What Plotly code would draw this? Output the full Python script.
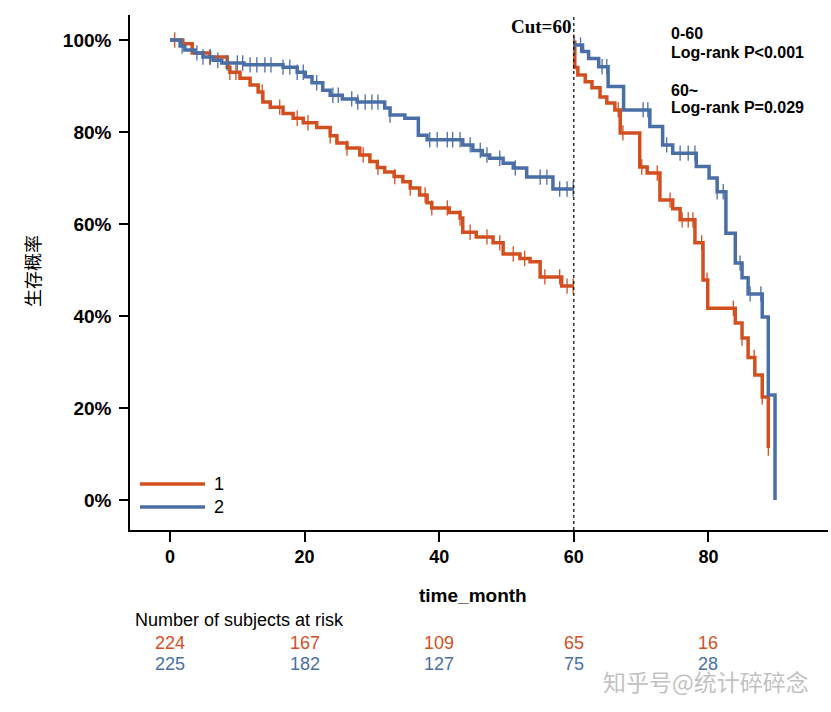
import numpy as np
import plotly.graph_objects as go

# ---------------- data ----------------
# Group 1 (orange), 0-60 months: step times and survival (%)
g1a_t = [0, 1.9, 3.3, 5.9, 8.5, 8.9, 10.4, 11.9, 13.1, 13.8, 14.9, 16.8, 18.3, 19.8, 21.8,
         23.8, 24.8, 26.3, 28.2, 29.7, 30.8, 31.9, 33.3, 34.6, 35.7, 37.1, 38.2, 38.9,
         41.5, 43.1, 43.5, 45.5, 48.0, 49.5, 52.0, 53.5, 55.0, 58.2, 60.0]
g1a_s = [100, 99.2, 97.2, 96.3, 94.0, 93.0, 91.7, 90.2, 88.7, 86.5, 85.4, 84.0, 83.0, 82.0, 81.0,
         79.2, 77.6, 76.5, 75.0, 73.6, 72.3, 71.3, 70.3, 69.2, 67.8, 66.3, 64.6, 63.5,
         62.5, 61.3, 58.2, 57.2, 55.9, 53.5, 52.5, 51.8, 48.5, 46.5, 46.5]
g1a_cens = [0.7, 5.9, 8.9, 9.8, 13.7, 16.3, 18.9, 20.5, 23.8, 26.3, 28.7, 30.9, 33.4, 35.7,
            37.9, 38.9, 41.2, 43.1, 44.6, 47.1, 49.0, 51.0, 52.7, 55.7, 57.9, 59.0, 59.9]

# Group 2 (blue), 0-60 months
g2a_t = [0, 1.5, 2.2, 3.7, 4.9, 6.4, 7.7, 11.0, 16.8, 18.9, 20.1, 21.1, 22.7, 23.8, 25.6,
         27.8, 31.9, 32.7, 34.9, 36.9, 38.2, 43.5, 45.0, 46.4, 47.5, 49.5, 51.0, 53.0, 56.9, 60.0]
g2a_s = [100, 98.7, 97.8, 97.2, 96.3, 95.6, 95.0, 94.6, 94.1, 93.0, 92.0, 90.7, 89.1, 88.0, 87.2,
         86.5, 85.2, 83.7, 83.0, 79.3, 78.3, 77.2, 76.0, 75.0, 74.3, 73.2, 72.2, 70.2, 67.6, 67.6]
g2a_cens = [1.8, 4.0, 4.9, 6.0, 7.1, 8.5, 10.0, 10.8, 11.9, 12.9, 14.1, 15.0, 16.8, 17.8, 18.9,
            19.8, 21.8, 24.2, 25.0, 27.0, 27.9, 29.0, 30.0, 30.9, 32.7, 38.6, 39.7, 41.2, 42.0,
            43.1, 44.6, 46.1, 47.1, 49.0, 51.3, 55.0, 56.0, 57.9, 59.0, 59.9]

# Group 1 (orange), after 60 months
g1b_t = [60.0, 60.15, 60.6, 61.7, 62.7, 63.9, 64.9, 66.1, 66.9, 69.8, 70.9, 72.8, 74.7, 75.8,
         78.0, 79.2, 79.9, 84.0, 85.0, 85.9, 86.9, 88.0, 88.9]
g1b_s = [99.5, 94.0, 92.4, 90.9, 89.6, 87.6, 86.3, 84.8, 79.8, 72.4, 71.1, 65.2, 63.3, 60.9,
         55.9, 47.8, 41.7, 38.5, 35.2, 31.0, 27.2, 22.4, 11.3]
g1b_cens = [60.0, 66.6, 67.3, 70.1, 72.4, 74.3, 76.1, 77.0, 77.7, 79.0, 79.8, 83.7, 85.0,
            86.8, 88.0, 88.9]

# Group 2 (blue), after 60 months
g2b_t = [60.0, 61.3, 62.2, 63.7, 65.1, 67.4, 71.3, 73.2, 74.7, 78.2, 80.1, 81.3, 82.6, 84.0,
         85.0, 85.9, 88.0, 88.9, 89.9]
g2b_s = [98.9, 97.5, 96.0, 94.2, 89.9, 84.8, 81.2, 77.2, 75.4, 72.5, 70.0, 67.0, 58.0, 51.5,
         48.3, 44.8, 39.8, 22.8, 0.0]
g2b_cens = [60.1, 61.0, 64.2, 64.9, 70.3, 71.0, 73.8, 75.8, 77.0, 78.0, 81.3, 82.2, 84.7,
            86.2, 87.8]

# Risk table
risk_times = [0, 20, 40, 60, 80]
risk_g1 = [224, 167, 109, 65, 16]
risk_g2 = [225, 182, 127, 75, 28]

x_ticks = [0, 20, 40, 60, 80]
y_ticks = [0, 20, 40, 60, 80, 100]
group_names = ["1", "2"]

ORANGE = "#D2501F"
BLUE = "#4A6FA6"
FONT = "Liberation Sans, Arial, sans-serif"


def step_value(ts, ss, t):
    i = np.searchsorted(np.array(ts), t, side="right") - 1
    i = max(0, min(i, len(ss) - 1))
    return ss[i]


fig = go.Figure()

for ts, ss, cens, col in [(g1a_t, g1a_s, g1a_cens, ORANGE), (g2a_t, g2a_s, g2a_cens, BLUE),
                          (g1b_t, g1b_s, g1b_cens, ORANGE), (g2b_t, g2b_s, g2b_cens, BLUE)]:
    fig.add_trace(go.Scatter(x=ts, y=ss, mode="lines", line=dict(color=col, width=3.5, shape="hv"),
                             showlegend=False, hoverinfo="skip"))
    fig.add_trace(go.Scatter(x=cens, y=[step_value(ts, ss, c) for c in cens], mode="markers",
                             marker=dict(symbol="line-ns-open", size=11, color=col,
                                         line=dict(color=col, width=1.3)),
                             showlegend=False, hoverinfo="skip"))

# vertical cut line
fig.add_shape(type="line", x0=60, x1=60, xref="x", y0=0, y1=1, yref="paper",
              line=dict(color="black", width=1.2, dash="dot"))

ann = []
ann.append(dict(x=60, y=1, xref="x", yref="paper", xanchor="right", yanchor="middle",
                xshift=-1, yshift=-11, text="<b>Cut=60</b>", showarrow=False,
                font=dict(family="Liberation Serif, Times New Roman, serif", size=19, color="black")))
for txt, ypx in [("<b>0-60</b>", 33), ("<b>Log-rank P&lt;0.001</b>", 52),
                 ("<b>60~</b>", 90), ("<b>Log-rank P=0.029</b>", 108)]:
    ann.append(dict(x=(669 - 130) / 698, y=(530 - ypx) / 515, xref="paper", yref="paper",
                    xanchor="left", yanchor="middle", text=txt, showarrow=False,
                    font=dict(family=FONT, size=16, color="black")))

# y title
ann.append(dict(x=0, y=(530 - 271) / 515, xref="paper", yref="paper", xshift=-98,
                xanchor="center", yanchor="middle", text="生存概率", textangle=-90,
                showarrow=False, font=dict(family="Noto Sans CJK SC", size=18, color="black")))
# x title
ann.append(dict(x=(473 - 130) / 698, y=(530 - 595) / 515, xref="paper", yref="paper",
                xanchor="center", yanchor="middle", text="<b>time_month</b>", showarrow=False,
                font=dict(family=FONT, size=19, color="black")))

# risk table
ann.append(dict(x=(133 - 130) / 698, y=(530 - 620) / 515, xref="paper", yref="paper",
                xanchor="left", yanchor="middle", text="Number of subjects at risk",
                showarrow=False, font=dict(family=FONT, size=18, color="black")))
for t, n1, n2 in zip(risk_times, risk_g1, risk_g2):
    ann.append(dict(x=t, y=(530 - 643) / 515, xref="x", yref="paper", xanchor="center",
                    yanchor="middle", text=str(n1), showarrow=False,
                    font=dict(family=FONT, size=18, color=ORANGE)))
    ann.append(dict(x=t, y=(530 - 664) / 515, xref="x", yref="paper", xanchor="center",
                    yanchor="middle", text=str(n2), showarrow=False,
                    font=dict(family=FONT, size=18, color=BLUE)))

# legend (drawn manually)
for name, col, ypx in [(group_names[0], ORANGE, 484), (group_names[1], BLUE, 507)]:
    yp = (530 - ypx) / 515
    fig.add_shape(type="line", xref="paper", yref="paper", x0=(140 - 130) / 698,
                  x1=(205 - 130) / 698, y0=yp, y1=yp, line=dict(color=col, width=3.5))
    ann.append(dict(x=(212 - 130) / 698, y=yp, xref="paper", yref="paper", xanchor="left",
                    yanchor="middle", text=name, showarrow=False,
                    font=dict(family=FONT, size=18, color="black")))

# watermark
ann.append(dict(x=(811 - 130) / 698, y=(530 - 681) / 515, xref="paper", yref="paper",
                xanchor="right", yanchor="middle", text="知乎号@统计碎碎念", showarrow=False,
                font=dict(family="Noto Sans CJK SC", size=23, color="rgba(140,140,140,0.55)")))

fig.update_layout(
    width=831, height=712,
    margin=dict(l=130, r=3, t=15, b=182),
    paper_bgcolor="white", plot_bgcolor="white",
    annotations=ann,
    xaxis=dict(range=[-40 / 6.73, (828 - 170) / 6.73], tickvals=x_ticks,
               ticktext=[f"<b>{v}</b>" for v in x_ticks], ticks="outside",
               ticklen=10, tickwidth=1.5, tickcolor="black", showline=True, linecolor="black",
               linewidth=1.5, showgrid=False, zeroline=False,
               tickfont=dict(family=FONT, size=18, color="black"), ticklabelstandoff=0),
    yaxis=dict(range=[-30 / 4.6, 100 + 25 / 4.6], tickvals=y_ticks,
               ticktext=[f"<b>{v}%</b>" for v in y_ticks], ticks="outside", ticklen=9,
               tickwidth=1.5, tickcolor="black", showline=True, linecolor="black", linewidth=1.5,
               showgrid=False, zeroline=False,
               tickfont=dict(family=FONT, size=19, color="black"), ticklabelstandoff=4),
)

fig.write_html("out.html")
